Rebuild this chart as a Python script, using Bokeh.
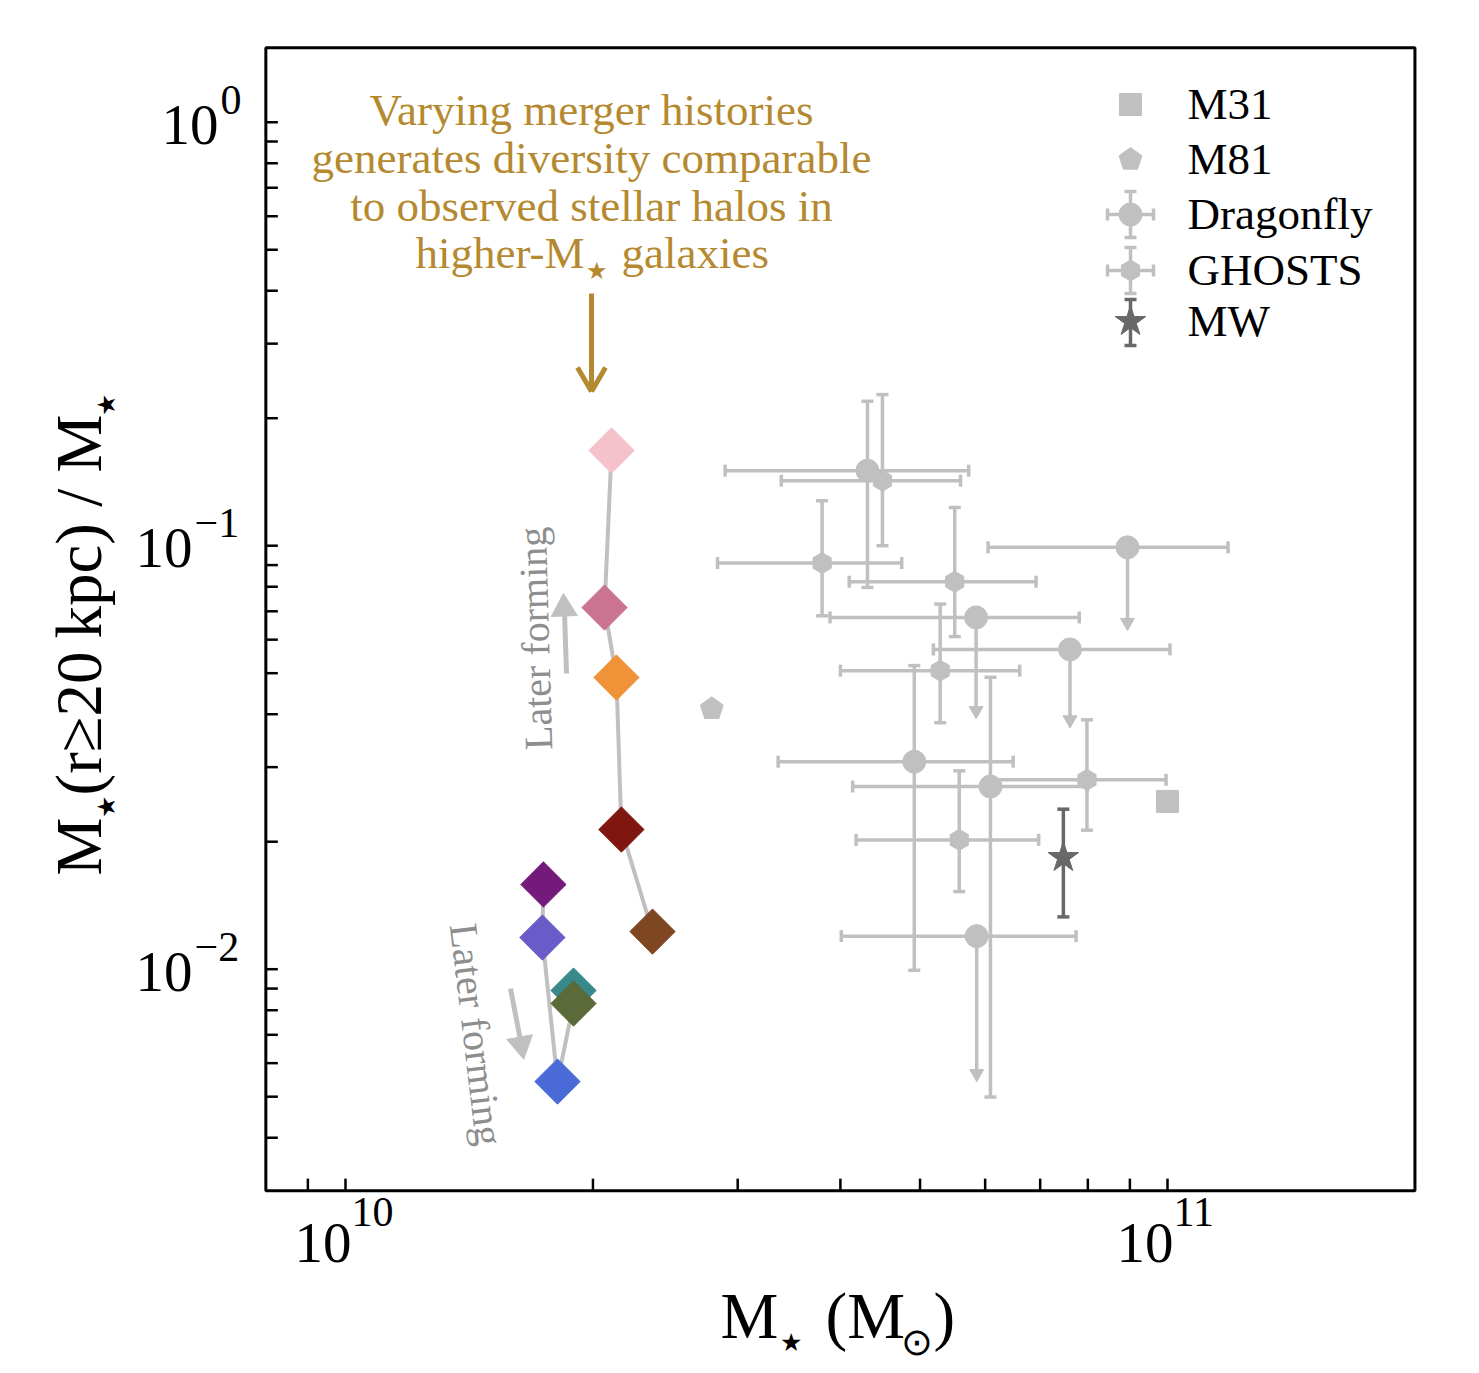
import numpy as np
from bokeh.plotting import figure
from bokeh.models import Label
from bokeh.embed import file_html
from bokeh.resources import INLINE

# ---------------- data ----------------
# simulated galaxies (diamonds), group A (upper track)
sim_a_mass = [2.107e10, 2.066e10, 2.136e10, 2.166e10, 2.363e10]
sim_a_frac = [0.1678, 0.07144, 0.04884, 0.02137, 0.01227]
sim_a_colors = ["#F5C1CB", "#CB7491", "#F09338", "#7F160F", "#7E4621"]
# group B (lower track), in line order
sim_b_mass = [1.741e10, 1.736e10, 1.811e10, 1.894e10, 1.894e10]
sim_b_frac = [0.01585, 0.01188, 0.005429, 0.008298, 0.008906]
sim_b_colors = ["#741A7B", "#6A5CC8", "#4A6AD8", "#5B6A38", "#37898A"]

# Dragonfly detections
df_mass = [4.315e10, 4.92e10, 6.09e10]
df_frac = [0.1504, 0.0309, 0.0270]
df_mass_lo = [2.896e10, 3.36e10, 4.14e10]
df_mass_hi = [5.73e10, 6.49e10, 7.99e10]
df_frac_lo = [0.0797, 0.00994, 0.00499]
df_frac_hi = [0.2193, 0.0521, 0.0489]
# Dragonfly upper limits
dfu_mass = [8.94e10, 5.85e10, 7.61e10, 5.86e10]
dfu_frac = [0.0991, 0.0677, 0.0569, 0.01197]
dfu_mass_lo = [6.05e10, 3.885e10, 5.19e10, 4.01e10]
dfu_mass_hi = [1.185e11, 7.81e10, 1.007e11, 7.74e10]
dfu_frac_tip = [0.0659, 0.0408, 0.0388, 0.00567]

# GHOSTS
gh_mass = [4.50e10, 3.80e10, 5.51e10, 5.29e10, 7.98e10, 5.58e10]
gh_frac = [0.1424, 0.0910, 0.0822, 0.0507, 0.0280, 0.0202]
gh_mass_lo = [3.39e10, 2.835e10, 4.10e10, 4.00e10, 6.09e10, 4.18e10]
gh_mass_hi = [5.60e10, 4.75e10, 6.92e10, 6.61e10, 9.96e10, 6.97e10]
gh_frac_lo = [0.1000, 0.0683, 0.0610, 0.0382, 0.0213, 0.01525]
gh_frac_hi = [0.2274, 0.1277, 0.1231, 0.0728, 0.0388, 0.0294]

# single galaxies
mw_mass, mw_frac, mw_frac_lo, mw_frac_hi = [7.47e10], [0.01835], [0.01329], [0.02387]
m31_mass, m31_frac = [1.0e11], [0.0249]
m81_mass, m81_frac = [2.79e10], [0.0412]

# axes
x_lim = [8e9, 2e11]
y_lim = [3e-3, 1.5]
x_major = [1e10, 1e11]
x_minor = [9e9] + [k * 1e10 for k in range(2, 10)]
y_major = [1e-2, 1e-1, 1.0]
y_minor = ([k * 1e-3 for k in range(4, 10)] + [k * 1e-2 for k in range(2, 10)]
           + [k * 1e-1 for k in range(2, 10)])
x_tick_exps = [10, 11]
y_tick_exps = [0, -1, -2]

legend_labels = ["M31", "M81", "Dragonfly", "GHOSTS", "MW"]
note_lines = ["Varying merger histories", "generates diversity comparable",
              "to observed stellar halos in"]
note_last = ["higher-M", "\u2605", "galaxies"]
later_text = "Later forming"

# ---------------- styling ----------------
FONT = "Liberation Serif"
GRAY = "#C0C0C0"
DARK = "#686868"
GOLD = "#B5892F"
TXTGRAY = "#8E8E8E"
EBW = 3.5
W, H = 1479, 1373

# pixel <-> data mapping of the page (log axes); plot box spans 8e9..2e11, 0.003..1.5
X10, DX, Y1, DY = 345.0, 822.0, 121.7, 423.5
def fx(px):
    return 10 ** (10 + (px - X10) / DX)
def fy(py):
    return 10 ** (-(py - Y1) / DY)

# the frame covers the whole page so that texts outside the plot box are drawn too
p = figure(width=W, height=H, x_axis_type="log", y_axis_type="log",
           x_range=(fx(0), fx(W)), y_range=(fy(H), fy(0)),
           x_axis_location=None, y_axis_location=None, min_border=0,
           output_backend="svg", toolbar_location=None,
           background_fill_color="white", border_fill_color="white")
p.grid.visible = False
p.outline_line_color = None

def lab(px, py, text, size, color="black", align="left", angle=0.0, base=True):
    """px, py: anchor; if base, py is the alphabetic baseline (converted to middle)."""
    if base:
        if abs(angle) < 1e-6:
            py = py - 0.34 * size
        else:  # rotated +90 deg: text 'up' is screen-left
            px = px - 0.34 * size
    p.add_layout(Label(x=fx(px), y=fy(py), text=text, text_font=FONT,
                       text_font_size=f"{size}px", text_color=color, text_align=align,
                       text_baseline="middle", angle=angle))

# ---------------- axes box and ticks ----------------
TICK = 12
xt = x_major + x_minor
p.segment(x0=xt, y0=[y_lim[0]] * len(xt), x1=xt, y1=[y_lim[0] * 10 ** (TICK / DY)] * len(xt),
          line_color="black", line_width=2.5)
yt = y_major + y_minor
p.segment(x0=[x_lim[0]] * len(yt), y0=yt, x1=[x_lim[0] * 10 ** (TICK / DX)] * len(yt), y1=yt,
          line_color="black", line_width=2.5)

# ---------------- simulated tracks ----------------
p.line(sim_a_mass, sim_a_frac, line_color=GRAY, line_width=4)
p.line(sim_b_mass, sim_b_frac, line_color=GRAY, line_width=4)
draw_b = [0, 1, 2, 4, 3]  # teal under olive
p.scatter(sim_a_mass, sim_a_frac, marker="square", angle=np.pi / 4, size=32,
          fill_color=sim_a_colors, line_color=sim_a_colors)
p.scatter([sim_b_mass[i] for i in draw_b], [sim_b_frac[i] for i in draw_b],
          marker="square", angle=np.pi / 4, size=32,
          fill_color=[sim_b_colors[i] for i in draw_b],
          line_color=[sim_b_colors[i] for i in draw_b])

# ---------------- observed: error bars ----------------
def hbars(xs_lo, xs_hi, ys, color, width=EBW):
    p.segment(x0=xs_lo, y0=ys, x1=xs_hi, y1=ys, line_color=color, line_width=width)
    p.scatter(list(xs_lo) + list(xs_hi), list(ys) * 2, marker="dash", angle=np.pi / 2,
              size=12, line_color=color, line_width=width)

def vbars(xs, ys_lo, ys_hi, color, width=EBW):
    p.segment(x0=xs, y0=ys_lo, x1=xs, y1=ys_hi, line_color=color, line_width=width)
    p.scatter(list(xs) * 2, list(ys_lo) + list(ys_hi), marker="dash",
              size=12, line_color=color, line_width=width)

hbars(df_mass_lo + dfu_mass_lo, df_mass_hi + dfu_mass_hi, df_frac + dfu_frac, GRAY)
vbars(df_mass, df_frac_lo, df_frac_hi, GRAY)
hbars(gh_mass_lo, gh_mass_hi, gh_frac, GRAY)
vbars(gh_mass, gh_frac_lo, gh_frac_hi, GRAY)
vbars(mw_mass, mw_frac_lo, mw_frac_hi, DARK)

# upper limits: line down to the limit, with an arrow head
p.segment(x0=dfu_mass, y0=dfu_frac, x1=dfu_mass, y1=dfu_frac_tip, line_color=GRAY, line_width=EBW)
p.scatter(dfu_mass, dfu_frac_tip, marker="inverted_triangle", size=14,
          fill_color=GRAY, line_color=GRAY)

# ---------------- observed: markers ----------------
p.scatter(df_mass + dfu_mass, df_frac + dfu_frac, marker="circle", size=23,
          fill_color=GRAY, line_color=GRAY)
p.scatter(gh_mass, gh_frac, marker="hex", angle=np.pi / 2, size=21,
          fill_color=GRAY, line_color=GRAY)
p.scatter(m31_mass, m31_frac, marker="square", size=22, fill_color=GRAY, line_color=GRAY)

def pentagon(xs, ys):
    try:
        p.ngon(x=xs, y=ys, radius=12, radius_units="screen", n=5,
               fill_color=GRAY, line_color=GRAY)
    except Exception:
        p.scatter(xs, ys, marker="hex", size=22, fill_color=GRAY, line_color=GRAY)

pentagon(m81_mass, m81_frac)
p.scatter(mw_mass, mw_frac, marker="star", size=32, fill_color=DARK, line_color=DARK)

# plot box
p.quad(left=[x_lim[0]], right=[x_lim[1]], bottom=[y_lim[0]], top=[y_lim[1]],
       fill_color=None, line_color="black", line_width=3)

# ---------------- legend (drawn by hand) ----------------
LGX = 1130
leg_y = [104, 159, 214, 270, 321]
lx, ly = fx(LGX), [fy(v) for v in leg_y]
p.scatter([lx], [ly[0]], marker="square", size=22, fill_color=GRAY, line_color=GRAY)
pentagon([lx], [ly[1]])
for k, mk, sz in ((2, "circle", 23), (3, "hex", 21)):
    hbars([fx(LGX - 23)], [fx(LGX + 23)], [ly[k]], GRAY)
    vbars([lx], [fy(leg_y[k] + 23)], [fy(leg_y[k] - 23)], GRAY)
    p.scatter([lx], [ly[k]], marker=mk, size=sz, angle=(np.pi / 2 if mk == "hex" else 0),
              fill_color=GRAY, line_color=GRAY)
vbars([lx], [fy(leg_y[4] + 24)], [fy(leg_y[4] - 22)], DARK)
p.scatter([lx], [ly[4]], marker="star", size=32, fill_color=DARK, line_color=DARK)
for t, yy in zip(legend_labels, leg_y):
    lab(1187, yy + 15, t, 45)

# ---------------- annotations ----------------
for i, t in enumerate(note_lines):
    lab(591, 125 + 47.7 * i, t, 45, GOLD, "center")
lab(584, 268, note_last[0], 45, GOLD, "right")
lab(596, 270, note_last[1], 24, GOLD, "center", base=False)
lab(621, 268, note_last[2], 45, GOLD, "left")
# gold arrow with open head
p.segment(x0=[fx(591)], y0=[fy(293)], x1=[fx(591)], y1=[fy(390)], line_color=GOLD, line_width=5)
p.segment(x0=[fx(577), fx(605)], y0=[fy(367), fy(367)], x1=[fx(591), fx(591)],
          y1=[fy(391), fy(391)], line_color=GOLD, line_width=5)

# "later forming" markers
lab(535, 638, later_text, 40, TXTGRAY, "center", angle=1.60, base=False)
p.segment(x0=[fx(566)], y0=[fy(673)], x1=[fx(564)], y1=[fy(612)], line_color=GRAY, line_width=5)
p.scatter([fx(563.5)], [fy(608)], marker="triangle", size=26, angle=0.04,
          fill_color=GRAY, line_color=GRAY)
lab(476, 1034, later_text, 40, TXTGRAY, "center", angle=-1.452, base=False)
p.segment(x0=[fx(510)], y0=[fy(988)], x1=[fx(520)], y1=[fy(1040)], line_color=GRAY, line_width=5)
p.scatter([fx(520.5)], [fy(1044)], marker="triangle", size=26, angle=np.pi + 0.18,
          fill_color=GRAY, line_color=GRAY)

# ---------------- tick labels ----------------
for e in x_tick_exps:
    tx = X10 + (e - 10) * DX
    lab(tx + 6, 1262, "10", 57, "black", "right")
    lab(tx + 6, 1226, str(e), 42, "black", "left")
for e in y_tick_exps:
    ty = Y1 - e * DY
    lab(218 if e == 0 else 192, ty + 22, "10", 57, "black", "right")
    lab(220 if e == 0 else 194, ty - 8, str(e).replace("-", "\u2212"), 42, "black", "left")

# ---------------- axis labels ----------------
lab(720, 1338, "M", 65)
lab(790, 1342, "\u2605", 25, "black", "center", base=False)
lab(825, 1338, "(M", 65)
lab(916, 1341, "\u2299", 38, "black", "center", base=False)
lab(933, 1338, ")", 65)

lab(101, 875, "M", 65, angle=np.pi / 2)
lab(106, 806, "\u2605", 25, "black", "center", angle=np.pi / 2, base=False)
lab(101, 795, "(r\u226520\u2009kpc) / M", 65, angle=np.pi / 2)
lab(106, 404, "\u2605", 25, "black", "center", angle=np.pi / 2, base=False)

open("out.html", "w").write(file_html(p, INLINE))
